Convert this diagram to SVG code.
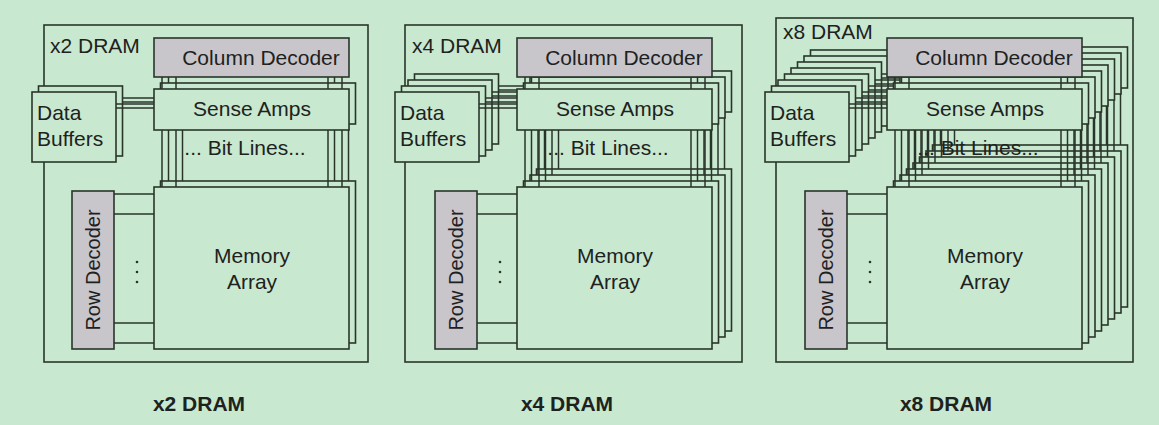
<svg xmlns="http://www.w3.org/2000/svg" xmlns:xlink="http://www.w3.org/1999/xlink" width="1159" height="425" viewBox="0 0 1159 425">
<style>
.b{fill:#c8e8cf;stroke:#2a352a;stroke-width:1.6}
.g{fill:#c9c6cb;stroke:#2a352a;stroke-width:1.6}
.l{stroke:#2a352a;stroke-width:1.5;fill:none}
.f{fill:none;stroke:#2a352a;stroke-width:1.6}
text{font-family:"Liberation Sans",Arial,sans-serif;fill:#1e221e}
.t{font-size:21px}
.c{font-size:21px;text-anchor:middle}
.r{font-size:20px;text-anchor:middle}
.h{font-size:21px;font-weight:bold;text-anchor:middle}
</style>
<defs>
<g id="layer">
<rect class="b" x="154" y="187" width="195" height="162"/>
<line class="l" x1="162" y1="130" x2="162" y2="187"/>
<line class="l" x1="176" y1="130" x2="176" y2="187"/>
<line class="l" x1="328" y1="130" x2="328" y2="187"/>
<line class="l" x1="342" y1="130" x2="342" y2="187"/>
<line class="l" x1="116" y1="104" x2="154" y2="104"/>
<line class="l" x1="116" y1="108" x2="154" y2="108"/>
<rect class="b" x="154" y="89" width="195" height="41"/>
<rect class="b" x="32" y="92" width="84" height="70"/>
</g>
<g id="front">
<line class="l" x1="162" y1="77" x2="162" y2="89"/>
<line class="l" x1="176" y1="77" x2="176" y2="89"/>
<line class="l" x1="328" y1="77" x2="328" y2="89"/>
<line class="l" x1="342" y1="77" x2="342" y2="89"/>
<line class="l" x1="168.5" y1="77" x2="168.5" y2="83"/>
<line class="l" x1="334.5" y1="77" x2="334.5" y2="83"/>
<rect class="g" x="154" y="38" width="195" height="39"/>
<text class="c" x="261" y="65">Column Decoder</text>
<text class="c" x="252" y="116">Sense Amps</text>
<text class="t" x="37" y="120">Data</text>
<text class="t" x="37" y="146">Buffers</text>
<text class="c" x="245" y="155">... Bit Lines...</text>
<text class="c" x="252" y="263">Memory</text>
<text class="c" x="252" y="289">Array</text>
<line class="l" x1="114" y1="194" x2="154" y2="194"/>
<line class="l" x1="114" y1="214" x2="154" y2="214"/>
<line class="l" x1="114" y1="323" x2="154" y2="323"/>
<line class="l" x1="114" y1="343" x2="154" y2="343"/>
<circle cx="137" cy="262" r="1.3" fill="#2a352a"/>
<circle cx="137" cy="272" r="1.3" fill="#2a352a"/>
<circle cx="137" cy="282" r="1.3" fill="#2a352a"/>
<rect class="g" x="72" y="191" width="42" height="158"/>
<text class="r" transform="translate(100,270) rotate(-90)">Row Decoder</text>
</g>
</defs>
<rect width="1159" height="425" fill="#c8e8cf"/>
<g id="panel-x2">
<rect class="f" x="44" y="25" width="324" height="337"/>
<text class="t" x="50" y="53">x2 DRAM</text>
<g id="stack-x2">
<use xlink:href="#layer" transform="translate(6.5,-6)"/>
<use xlink:href="#layer"/>
</g>
<g id="nodes-x2"><use xlink:href="#front"/></g>
<text class="h" x="199" y="411">x2 DRAM</text>
</g>
<g id="panel-x4">
<rect class="f" x="405" y="25" width="337" height="337"/>
<text class="t" x="412" y="53">x4 DRAM</text>
<g id="stack-x4" transform="translate(363,0)">
<use xlink:href="#layer" transform="translate(19.5,-18)"/>
<use xlink:href="#layer" transform="translate(13,-12)"/>
<use xlink:href="#layer" transform="translate(6.5,-6)"/>
<use xlink:href="#layer"/>
</g>
<g id="nodes-x4" transform="translate(363,0)"><use xlink:href="#front"/></g>
<text class="h" x="567" y="411">x4 DRAM</text>
</g>
<g id="panel-x8">
<rect class="f" x="776" y="18" width="357" height="344"/>
<text class="t" x="783" y="39">x8 DRAM</text>
<g id="stack-x8" transform="translate(733,0)">
<use xlink:href="#layer" transform="translate(45.5,-42)"/>
<use xlink:href="#layer" transform="translate(39,-36)"/>
<use xlink:href="#layer" transform="translate(32.5,-30)"/>
<use xlink:href="#layer" transform="translate(26,-24)"/>
<use xlink:href="#layer" transform="translate(19.5,-18)"/>
<use xlink:href="#layer" transform="translate(13,-12)"/>
<use xlink:href="#layer" transform="translate(6.5,-6)"/>
<use xlink:href="#layer"/>
</g>
<g id="nodes-x8" transform="translate(733,0)"><use xlink:href="#front"/></g>
<text class="h" x="946" y="411">x8 DRAM</text>
</g>
</svg>
